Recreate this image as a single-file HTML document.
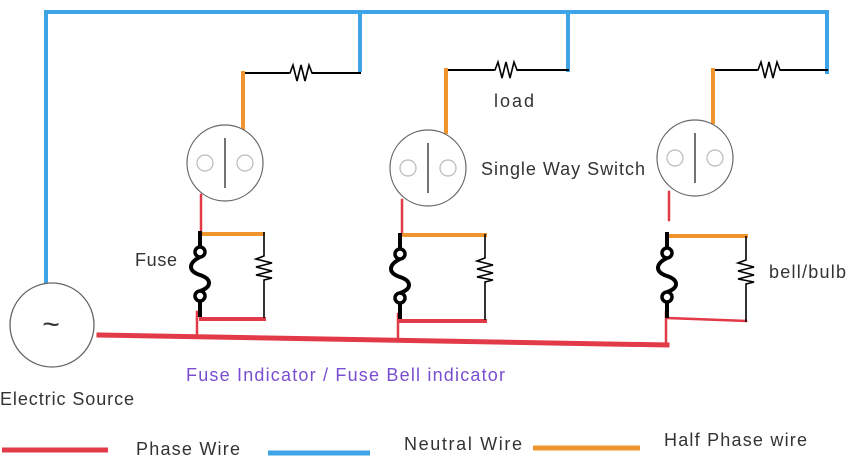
<!DOCTYPE html>
<html><head><style>body{margin:0;background:#fff}svg{display:block}text{font-family:"Liberation Sans",sans-serif;fill:#333}</style></head><body>
<svg width="857" height="464" viewBox="0 0 857 464" xmlns="http://www.w3.org/2000/svg">
<defs>
<g id="fuse" fill="none" stroke="#000" stroke-width="4">
<path d="M0 0 V16"/><circle cx="0" cy="21" r="5" stroke-width="3.5"/>
<path d="M0 26 C-12 32,-12 40,0 44 C12 48,12 56,0 60" />
<circle cx="0" cy="65" r="5" stroke-width="3.5"/><path d="M0 70 V86"/>
</g>
<g id="res" fill="none" stroke="#000" stroke-width="1.6">
<path d="M0 0 V24 L-8 27 L8 31 L-8 35 L8 39 L-8 43 L8 46 L0 48 V86"/>
</g>
<g id="hres" fill="none" stroke="#000" stroke-width="1.6">
<path d="M-25 0 H-10 L-7 -8 L-3 8 L1 -8 L5 8 L9 -8 L12 0"/>
</g>
<g id="sw" fill="none">
<circle r="38" stroke="#666" stroke-width="1.2" fill="#fff"/>
<circle cx="-20" r="8" stroke="#bbb" stroke-width="1.2"/>
<circle cx="20" r="8" stroke="#bbb" stroke-width="1.2"/>
<path d="M0 -25 V25" stroke="#444" stroke-width="1.5"/>
</g>
</defs>
<g fill="none" stroke-linecap="square">
<path d="M46 282 V12 H827 V72" stroke="#3ea4e6" stroke-width="4"/>
<path d="M360 12 V70 M568 12 V70" stroke="#3ea4e6" stroke-width="4"/>
<path d="M243 73 H288 M313 73 H360" stroke="#000" stroke-width="2"/>
<path d="M446 70 H493 M518 70 H568" stroke="#000" stroke-width="2"/>
<path d="M713 70 H756 M781 70 H827" stroke="#000" stroke-width="2"/>
<use href="#hres" x="300" y="73"/><use href="#hres" x="505" y="70"/><use href="#hres" x="768" y="70"/>
<path d="M243 73 V128 M446 70 V132 M713 70 V122" stroke="#f0952e" stroke-width="4"/>
<path d="M201 234 H263 M401 235 H485 M668 236 H746" stroke="#f0952e" stroke-width="4"/>
<path d="M201 195 V230 M402 200 V232 M669 192 V220" stroke="#e23a48" stroke-width="2.5"/>
<path d="M99 335 L667 345" stroke="#e23a48" stroke-width="5"/>
<path d="M201 319 H264 M401 321 H485" stroke="#e23a48" stroke-width="4"/>
<path d="M668 318 L746 321" stroke="#e23a48" stroke-width="2.5"/>
<path d="M197 312 V336 M398 314 V340 M666 312 V345" stroke="#e23a48" stroke-width="2.5"/>
</g>
<use href="#sw" x="225" y="163"/><use href="#sw" x="428" y="168"/><use href="#sw" x="695" y="158"/>
<use href="#fuse" x="200" y="231"/><use href="#fuse" x="400" y="233"/><use href="#fuse" x="667" y="232"/>
<use href="#res" x="264" y="232"/><use href="#res" x="485" y="234"/><use href="#res" x="746" y="236"/>
<circle cx="52" cy="325" r="42" fill="none" stroke="#666" stroke-width="1.3"/>
<text x="51" y="334" font-size="30" text-anchor="middle" fill="#222">~</text>
<text x="135" y="266" font-size="18" textLength="42">Fuse</text>
<text x="494" y="107" font-size="18" textLength="40">load</text>
<text x="481" y="175" font-size="18" textLength="164">Single Way Switch</text>
<text x="769" y="278" font-size="18" textLength="77">bell/bulb</text>
<text x="186" y="381" font-size="18" textLength="319" style="fill:#7a4ed0">Fuse Indicator / Fuse Bell indicator</text>
<text x="0" y="405" font-size="18" textLength="134">Electric Source</text>
<path d="M2 450 H108" stroke="#e23a48" stroke-width="5"/>
<text x="136" y="455" font-size="18" textLength="104">Phase Wire</text>
<path d="M268 453 H370" stroke="#3ea4e6" stroke-width="5"/>
<text x="404" y="450" font-size="18" textLength="118">Neutral Wire</text>
<path d="M533 448 H640" stroke="#f0952e" stroke-width="5"/>
<text x="664" y="446" font-size="18" textLength="143">Half Phase wire</text>
</svg>
</body></html>
